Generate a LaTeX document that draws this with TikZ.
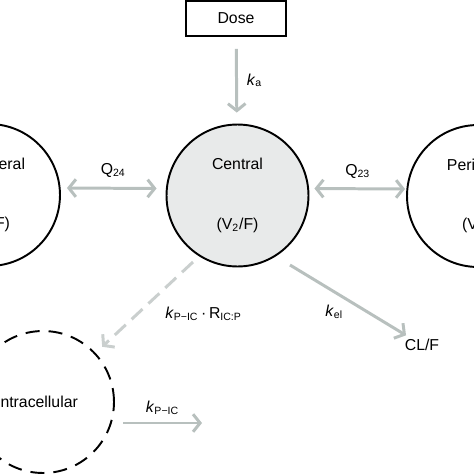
\documentclass[tikz,border=0pt]{standalone}
\usepackage{fontspec}
\setmainfont{Liberation Sans}
\usetikzlibrary{arrows.meta}
\definecolor{pkgrey}{RGB}{184,192,190}
\definecolor{pkdash}{RGB}{202,207,206}
\definecolor{pkfill}{RGB}{232,234,234}

\begin{document}
\begin{tikzpicture}[x=0.02cm,y=-0.02cm,
  comp/.style={circle,draw,line width=1.1pt,minimum size=2.84cm,inner sep=0pt,
               font=\fontsize{9}{11}\selectfont,align=center},
  box/.style={rectangle,draw,line width=1.1pt,minimum width=2cm,minimum height=0.7cm,
              font=\fontsize{9}{11}\selectfont},
  lbl/.style={font=\fontsize{9}{11}\selectfont,text=black,inner sep=2pt},
  arr/.style={-{Straight Barb[length=4pt,width=10pt]},pkgrey,line width=1.7pt},
  twoway/.style={{Straight Barb[length=4pt,width=10pt]}-{Straight Barb[length=4pt,width=10pt]},
                 pkgrey,line width=1.7pt},
  dasharr/.style={-{Straight Barb[length=4pt,width=10pt]},pkdash,line width=1.7pt,
                  dash pattern=on 0.3cm off 0.16cm}
]
\useasboundingbox (0,0) rectangle (474,474);
\clip (0,0) rectangle (474,474);

\node[box] (dose) at (236,18.5) {Dose};
\node[comp,fill=pkfill] (cen) at (237.5,195.5) {Central\\[0.8cm](V\textsubscript{2}/F)};
\node[comp] (per4) at (-11,195) {Peripheral\\[0.8cm](V\textsubscript{4}/F)};
\node[comp,label={[lbl,align=center,xshift=0.1cm]center:Peripheral\\[0.8cm](V\textsubscript{3}/F)}]
  (per3) at (478,196) {};
\node[comp,dash pattern=on 0.28cm off 0.18cm,
      label={[lbl,xshift=-0.12cm]center:Intracellular}] (intra) at (43,402) {};
\node[lbl] (clf) at (422,345) {CL/F};

\coordinate (elstart) at (290,265);
\coordinate (icstart) at (193,262);
\coordinate (outstart) at (123,423);
\coordinate (outend) at (202,423);

\draw[arr,shorten <=0.24cm,shorten >=0.22cm] (dose) -- (cen)
  node[midway,right=3pt,lbl]{\textit{k}\textsubscript{a}};
\draw[twoway,shorten <=0.12cm,shorten >=0.18cm] ([yshift=0.14cm]per4.east) -- ([yshift=0.14cm]cen.west)
  node[midway,above=3pt,lbl]{Q\textsubscript{24}};
\draw[twoway,shorten <=0.1cm,shorten >=0.02cm] ([yshift=0.14cm]cen.east) -- ([yshift=0.14cm]per3.west)
  node[midway,above=3pt,lbl]{Q\textsubscript{23}};
\draw[arr] (elstart) -- (clf)
  node[midway,below left=0pt,lbl]{\textit{k}\textsubscript{el}};
\draw[dasharr,shorten >=0.18cm] (icstart) -- (intra)
  node[midway,right=0.32cm,yshift=-0.12cm,lbl]{\textit{k}\textsubscript{P−IC}\,·\,R\textsubscript{IC:P}};
\draw[arr] (outstart) -- (outend)
  node[midway,above=2pt,lbl]{\textit{k}\textsubscript{P−IC}};
\end{tikzpicture}
\end{document}
